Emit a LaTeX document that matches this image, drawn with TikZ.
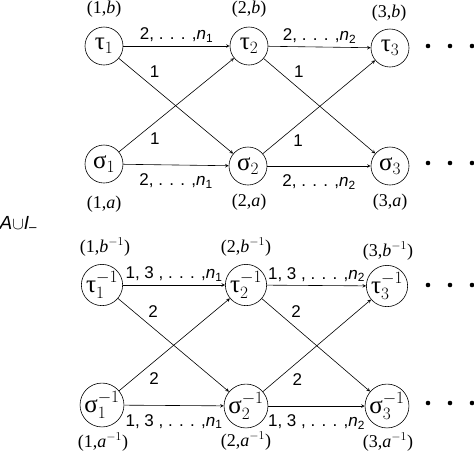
\documentclass[tikz,border=0pt]{standalone}
\usepackage{fontspec}
\setmainfont{Liberation Serif}
\setsansfont{Liberation Sans}
\begin{document}
\begin{tikzpicture}[>=stealth,x=1pt,y=-1pt, line join=round,semithick,
  state/.style={circle,draw,minimum size=38pt,inner sep=0pt,font=\fontsize{25}{27}\selectfont},
  lab/.style={font=\sffamily\fontsize{17}{19}\selectfont},
  coord/.style={font=\fontsize{18}{20}\selectfont}]
	\useasboundingbox (0,0) rectangle (474,451);
	%Hàng trên
	\node[state] (t1) at (104,46) {τ$_1$};
	\node[state] (t2) at (249,46) {τ$_2$};
	\node[state] (t3) at (390,48) {τ$_3$};
	\node[state] (s1) at (104,164) {σ$_1$};
	\node[state] (s2) at (248,166) {σ$_2$};
	\node[state] (s3) at (390,166) {σ$_3$};
	\node[coord] (b1) at (104,9) {(1,\textit{b})};
	\node[coord] (b2) at (249,9) {(2,\textit{b})};
	\node[coord] (b3) at (389,13) {(3,\textit{b})};
	\node[coord] (a1) at (104,204) {(1,\textit{a})};
	\node[coord] (a2) at (249,202) {(2,\textit{a})};
	\node[coord] (a3) at (390,202) {(3,\textit{a})};
	\draw[->] (t1)--(t2) node[lab,midway,above=0pt]{2, . . . ,\textit{n}\textsubscript{1}};
	\draw[->] (t2)--(t3) node[lab,midway,above=0pt]{2, . . . ,\textit{n}\textsubscript{2}};
	\draw[->] (s1)--(s2) node[lab,midway,below=5pt]{2, . . . ,\textit{n}\textsubscript{1}};
	\draw[->] (s2)--(s3) node[lab,midway,below=5pt]{2, . . . ,\textit{n}\textsubscript{2}};
	\draw[->] (t1)--(s2) node[lab,pos=.24,above right]{1};
	\draw[->] (s1)--(t2) node[lab,pos=.24,below right]{1};
	\draw[->] (t2)--(s3) node[lab,pos=.24,above right]{1};
	\draw[->] (s2)--(t3) node[lab,pos=.24,below right]{1};
	\foreach \x in {428,450,472} {\fill (\x,46) circle (2.3); \fill (\x,163) circle (2.3);}
	%Nhãn
	\node[font=\sffamily\fontsize{19}{21}\selectfont\itshape,anchor=west] (au) at (-4,224) {A$\cup$I\textsubscript{–}};
	%Hàng dưới
	\node[state] (ti1) at (102,285) {τ$^{-1}_1$};
	\node[state] (ti2) at (246,285) {τ$^{-1}_2$};
	\node[state] (ti3) at (387,286) {τ$^{-1}_3$};
	\node[state] (si1) at (102,405) {σ$^{-1}_1$};
	\node[state] (si2) at (246,406) {σ$^{-1}_2$};
	\node[state] (si3) at (387,406) {σ$^{-1}_3$};
	\node[coord] (bi1) at (105,247) {(1,\textit{b}$^{-1}$)};
	\node[coord] (bi2) at (246,247) {(2,\textit{b}$^{-1}$)};
	\node[coord] (bi3) at (388,251) {(3,\textit{b}$^{-1}$)};
	\node[coord] (ai1) at (103,442) {(1,\textit{a}$^{-1}$)};
	\node[coord] (ai2) at (246,441) {(2,\textit{a}$^{-1}$)};
	\node[coord] (ai3) at (388,442) {(3,\textit{a}$^{-1}$)};
	\draw[->] (ti1)--(ti2) node[lab,midway,above=0pt]{1, 3 , . . . ,\textit{n}\textsubscript{1}};
	\draw[->] (ti2)--(ti3) node[lab,midway,above=0pt]{1, 3 , . . . ,\textit{n}\textsubscript{2}};
	\draw[->] (si1)--(si2) node[lab,midway,below=5pt]{1, 3 , . . . ,\textit{n}\textsubscript{1}};
	\draw[->] (si2)--(si3) node[lab,midway,below=5pt]{1, 3 , . . . ,\textit{n}\textsubscript{2}};
	\draw[->] (ti1)--(si2) node[lab,pos=.24,above right]{2};
	\draw[->] (si1)--(ti2) node[lab,pos=.24,below right]{2};
	\draw[->] (ti2)--(si3) node[lab,pos=.24,above right]{2};
	\draw[->] (si2)--(ti3) node[lab,pos=.24,below right]{2};
	\foreach \x in {428,450,472} {\fill (\x,285) circle (2.3); \fill (\x,403) circle (2.3);}
\end{tikzpicture}
\end{document}
